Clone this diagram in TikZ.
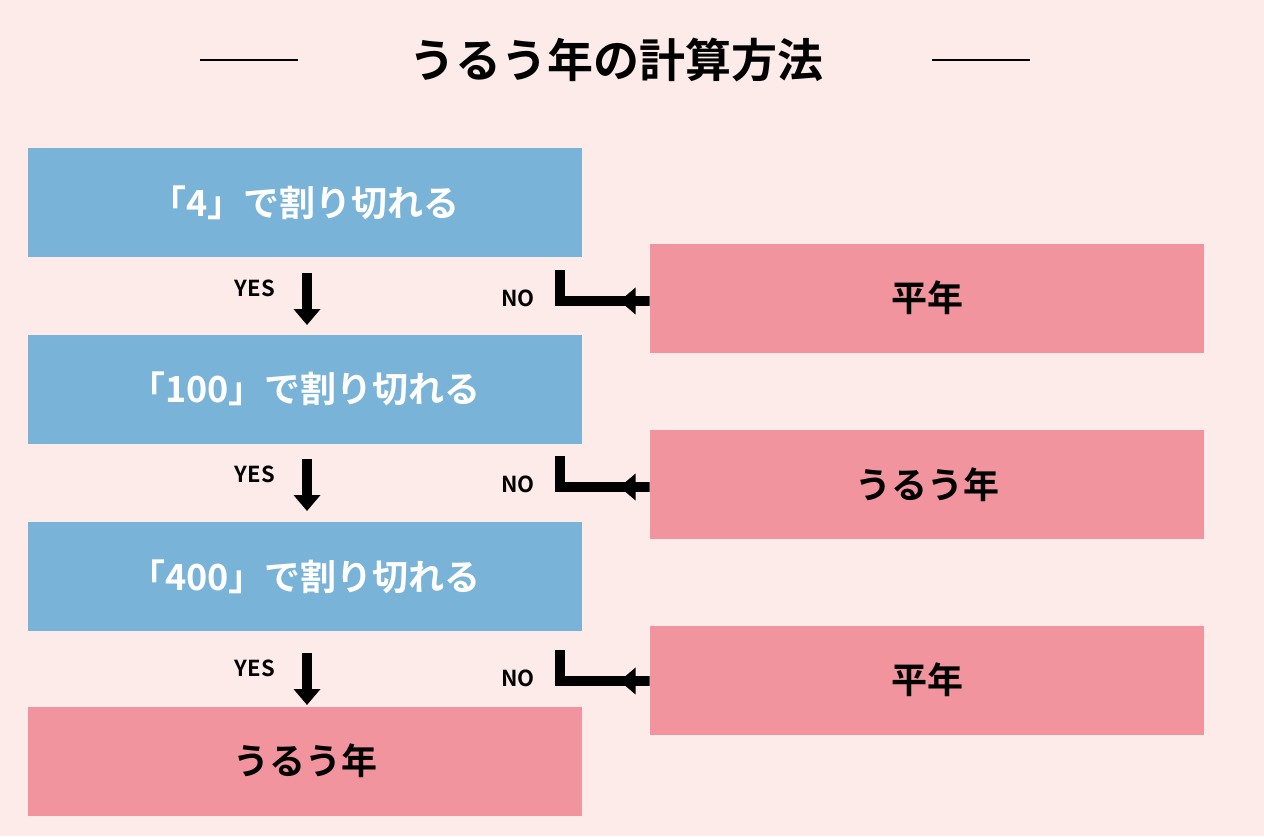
\documentclass[tikz,border=0pt]{standalone}
\usepackage{fontspec}
\setmainfont{Noto Sans CJK JP}[UprightFont={* Bold},BoldFont={* Black}]
\usetikzlibrary{arrows.meta,positioning}
\definecolor{bgpink}{HTML}{FDEBEA}
\definecolor{qblue}{HTML}{7AB3D8}
\definecolor{apink}{HTML}{F2949E}
\tikzset{
  qbox/.style={fill=qblue,text=white,minimum width=277pt,minimum height=54.5pt,inner sep=0pt,font=\fontsize{18}{20}\selectfont},
  abox/.style={fill=apink,text=black,minimum width=277pt,minimum height=54.5pt,inner sep=0pt,font=\fontsize{18}{20}\selectfont},
  lbl/.style={font=\fontsize{11}{12}\selectfont},
  bigarrow/.style={line width=5pt,-{Triangle[length=8pt,width=13pt]}}
}
\begin{document}
\begin{tikzpicture}[x=0.5pt,y=-0.5pt]
\fill[bgpink] (0,0) rectangle (1264,836);
\useasboundingbox (0,0) rectangle (1264,836);
% title
\node (title) at (616,60) {\fontsize{23}{25}\selectfont うるう年の計算方法};
\draw[line width=0.6pt] (200,60) -- (298,60);
\draw[line width=0.6pt] (932,60) -- (1030,60);
% questions
\node[qbox] (q1) at (305,202.5) {「4」で割り切れる};
\node[qbox] (q2) at (305,389) {「100」で割り切れる};
\node[qbox] (q3) at (305,576.5) {「400」で割り切れる};
\node[abox] (last) at (305,761) {うるう年};
% answers
\node[abox] (a1) at (927,298) {平年};
\node[abox] (a2) at (927,484.5) {うるう年};
\node[abox] (a3) at (927,680) {平年};
% arrows
\foreach \q/\a/\y in {q1/a1/298,q2/a2/484,q3/a3/678}{
  \node[lbl] (yes-\q) at (255,\y-10) {YES};
  \node[lbl] (no-\q) at (518,\y) {NO};
  \draw[bigarrow] (307,\y-25) -- (307,\y+27);
  \draw[line width=5pt,-{Triangle[length=8pt,width=13pt]}] (560,\y-28) -- (560,\y+3) -- (a1.west |- 0,\y+3) -- ++(-30,0);
}
\end{tikzpicture}
\end{document}
